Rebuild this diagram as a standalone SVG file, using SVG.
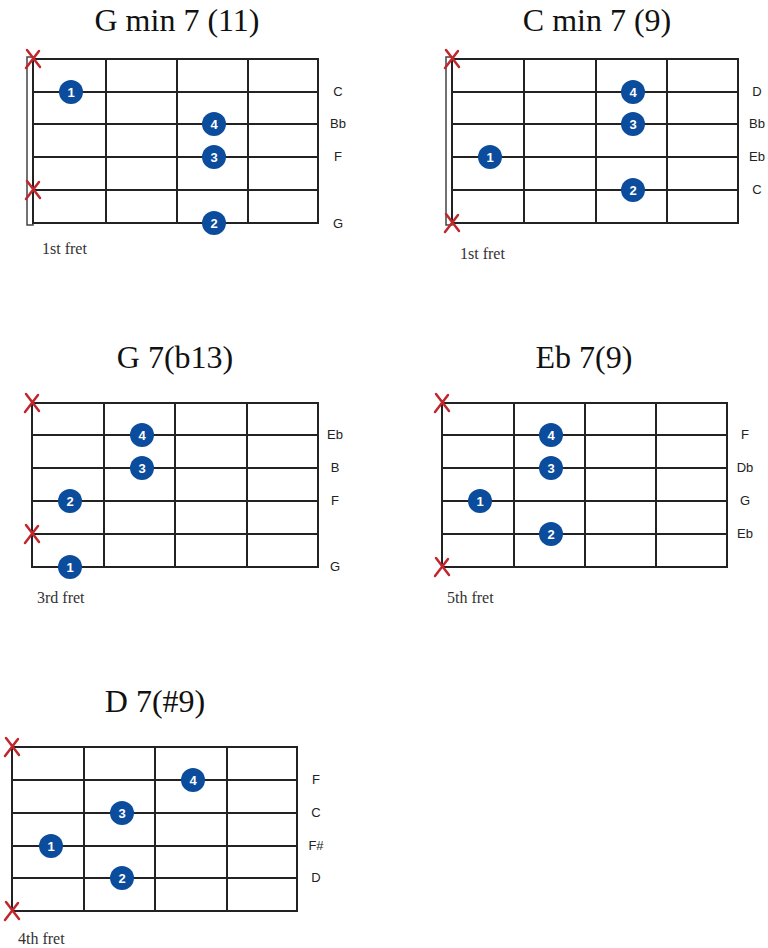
<svg xmlns="http://www.w3.org/2000/svg" width="768" height="948" viewBox="0 0 768 948">
<defs>
<style>
.g{fill:none;stroke:#222;stroke-width:2}
.t{font-family:"Liberation Serif",serif;font-size:32px;fill:#111;text-anchor:middle}
.f{font-family:"Liberation Serif",serif;font-size:16px;fill:#333}
.n{font-family:"Liberation Sans",sans-serif;font-size:13px;fill:#222;text-anchor:middle}
.d{fill:#0b4c9c}
.dn{font-family:"Liberation Sans",sans-serif;font-size:13px;font-weight:bold;fill:#fff;text-anchor:middle}
.x{stroke:#c0272d;stroke-width:2.5;fill:none;stroke-linecap:round}
</style>
<g id="X"><path class="x" d="M-6,-9 L7,8 M6,-8 L-7,9"/></g>
</defs>
<rect width="768" height="948" fill="#fff"/>

<g id="chord1">
<text class="t" x="177" y="31">G min 7 (11)</text>
<rect x="27" y="57" width="6" height="168" fill="#fff" stroke="#444" stroke-width="1.5"/>
<rect class="g" x="33" y="59" width="285" height="164"/>
<path class="g" d="M106,59V223M177,59V223M248,59V223M33,92H318M33,124H318M33,157H318M33,190H318"/>
<use href="#X" x="33" y="59"/><use href="#X" x="33" y="190"/>
<circle class="d" cx="71" cy="92" r="12"/><text class="dn" x="71" y="97">1</text>
<circle class="d" cx="214" cy="124" r="12"/><text class="dn" x="214" y="129">4</text>
<circle class="d" cx="214" cy="157" r="12"/><text class="dn" x="214" y="162">3</text>
<circle class="d" cx="214" cy="223" r="12"/><text class="dn" x="214" y="228">2</text>
<text class="n" x="338" y="96">C</text><text class="n" x="338" y="128">Bb</text><text class="n" x="338" y="161">F</text><text class="n" x="338" y="228">G</text>
<text class="f" x="42" y="254">1st fret</text>
</g>

<g id="chord2">
<text class="t" x="597" y="31">C min 7 (9)</text>
<rect x="446" y="57" width="6" height="168" fill="#fff" stroke="#444" stroke-width="1.5"/>
<rect class="g" x="452" y="59" width="286" height="164"/>
<path class="g" d="M524,59V223M596,59V223M667,59V223M452,92H738M452,124H738M452,157H738M452,190H738"/>
<use href="#X" x="452" y="59"/><use href="#X" x="452" y="223"/>
<circle class="d" cx="633" cy="92" r="12"/><text class="dn" x="633" y="97">4</text>
<circle class="d" cx="633" cy="124" r="12"/><text class="dn" x="633" y="129">3</text>
<circle class="d" cx="490" cy="157" r="12"/><text class="dn" x="490" y="162">1</text>
<circle class="d" cx="633" cy="190" r="12"/><text class="dn" x="633" y="195">2</text>
<text class="n" x="757" y="96">D</text><text class="n" x="757" y="128">Bb</text><text class="n" x="757" y="161">Eb</text><text class="n" x="757" y="194">C</text>
<text class="f" x="460" y="259">1st fret</text>
</g>

<g id="chord3">
<text class="t" x="175" y="368">G 7(b13)</text>
<rect class="g" x="32" y="403" width="286" height="164"/>
<path class="g" d="M104,403V567M175,403V567M247,403V567M32,435H318M32,468H318M32,501H318M32,534H318"/>
<use href="#X" x="32" y="403"/><use href="#X" x="32" y="534"/>
<circle class="d" cx="142" cy="435" r="12"/><text class="dn" x="142" y="440">4</text>
<circle class="d" cx="142" cy="468" r="12"/><text class="dn" x="142" y="473">3</text>
<circle class="d" cx="70" cy="501" r="12"/><text class="dn" x="70" y="506">2</text>
<circle class="d" cx="70" cy="567" r="12"/><text class="dn" x="70" y="572">1</text>
<text class="n" x="335" y="439">Eb</text><text class="n" x="335" y="472">B</text><text class="n" x="335" y="505">F</text><text class="n" x="335" y="571">G</text>
<text class="f" x="37" y="603">3rd fret</text>
</g>

<g id="chord4">
<text class="t" x="584" y="368">Eb 7(9)</text>
<rect class="g" x="442" y="403" width="285" height="164"/>
<path class="g" d="M514,403V567M585,403V567M656,403V567M442,435H727M442,468H727M442,501H727M442,534H727"/>
<use href="#X" x="442" y="403"/><use href="#X" x="442" y="567"/>
<circle class="d" cx="551" cy="435" r="12"/><text class="dn" x="551" y="440">4</text>
<circle class="d" cx="551" cy="468" r="12"/><text class="dn" x="551" y="473">3</text>
<circle class="d" cx="480" cy="501" r="12"/><text class="dn" x="480" y="506">1</text>
<circle class="d" cx="551" cy="534" r="12"/><text class="dn" x="551" y="539">2</text>
<text class="n" x="745" y="439">F</text><text class="n" x="745" y="472">Db</text><text class="n" x="745" y="505">G</text><text class="n" x="745" y="538">Eb</text>
<text class="f" x="447" y="603">5th fret</text>
</g>

<g id="chord5">
<text class="t" x="155" y="712">D 7(#9)</text>
<rect class="g" x="12" y="747" width="285" height="164"/>
<path class="g" d="M84,747V911M155,747V911M227,747V911M12,780H297M12,813H297M12,846H297M12,878H297"/>
<use href="#X" x="12" y="747"/><use href="#X" x="12" y="911"/>
<circle class="d" cx="193" cy="780" r="12"/><text class="dn" x="193" y="785">4</text>
<circle class="d" cx="122" cy="813" r="12"/><text class="dn" x="122" y="818">3</text>
<circle class="d" cx="51" cy="846" r="12"/><text class="dn" x="51" y="851">1</text>
<circle class="d" cx="122" cy="878" r="12"/><text class="dn" x="122" y="883">2</text>
<text class="n" x="316" y="784">F</text><text class="n" x="316" y="817">C</text><text class="n" x="316" y="850">F#</text><text class="n" x="316" y="882">D</text>
<text class="f" x="18" y="944">4th fret</text>
</g>
</svg>
